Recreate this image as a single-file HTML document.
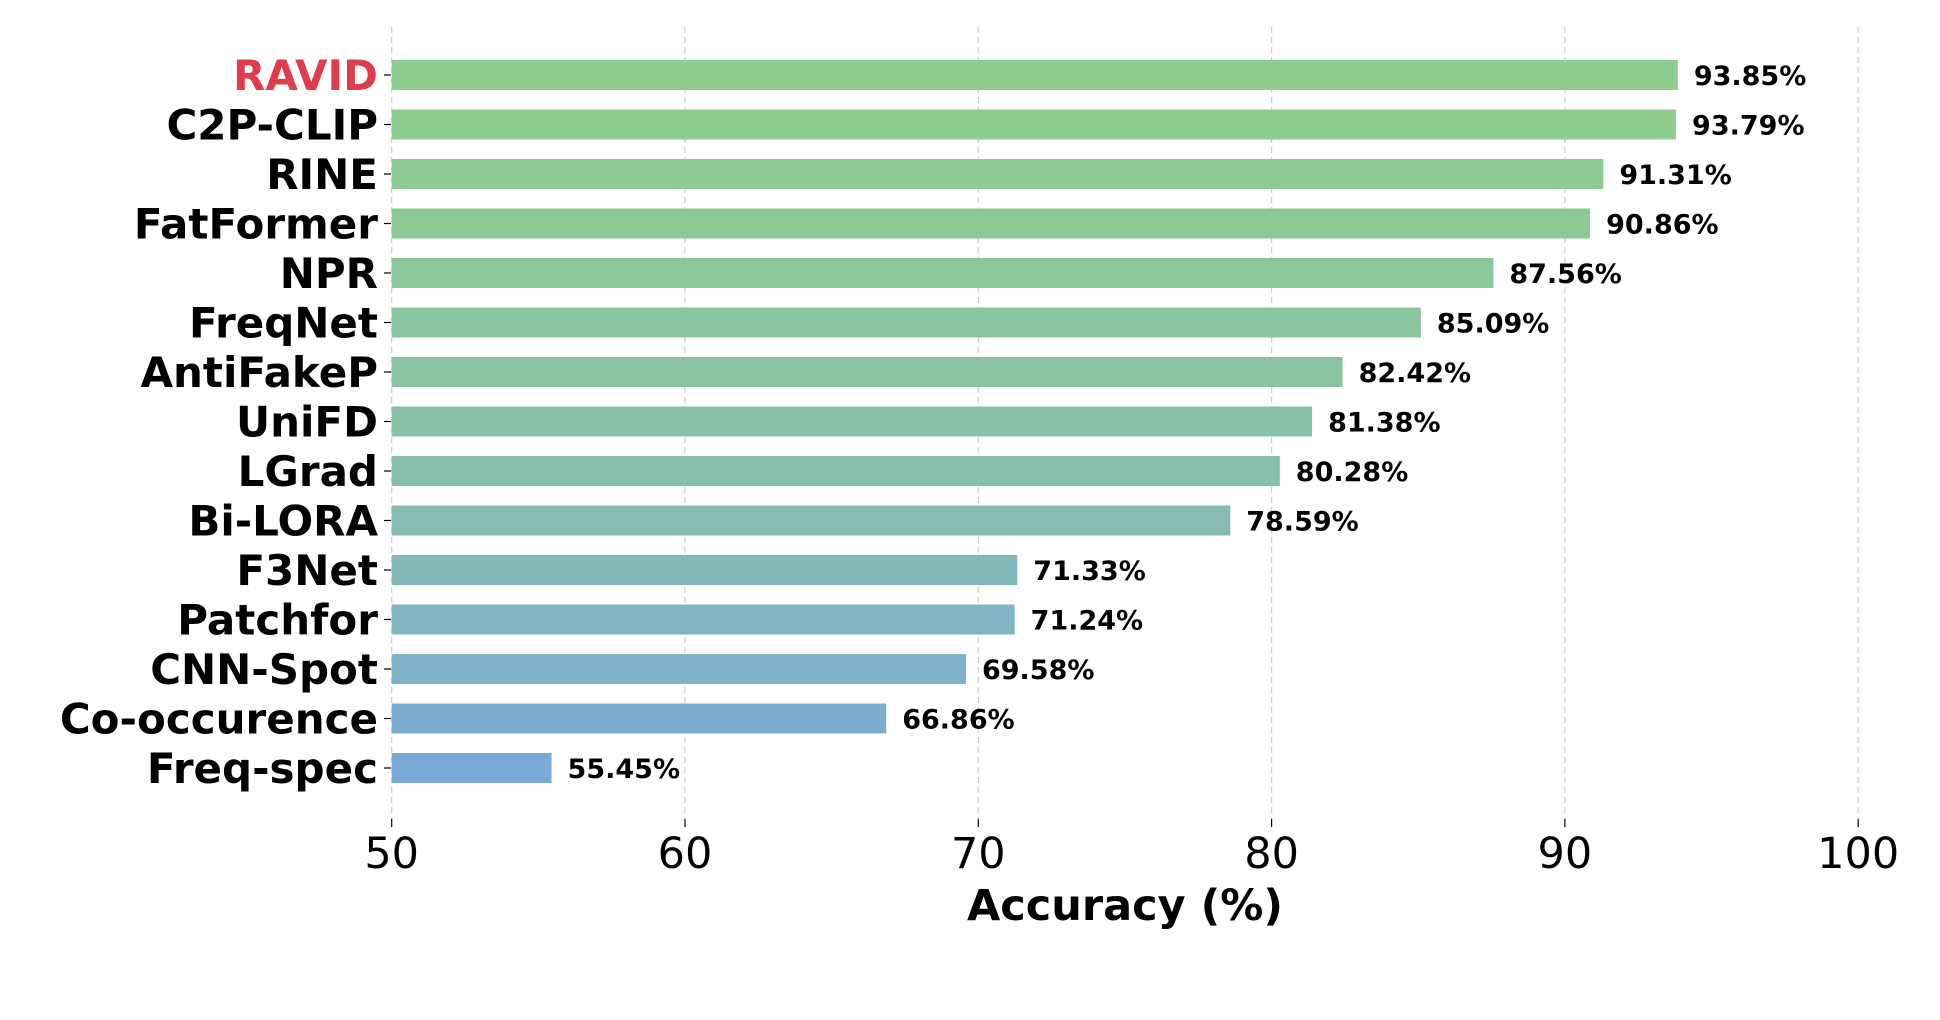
<!DOCTYPE html>
<html><head><meta charset="utf-8"><style>
html,body{margin:0;padding:0;background:#fff;}
svg{display:block;font-family:"DejaVu Sans","Liberation Sans",sans-serif;}
</style></head><body>
<svg id="chart" width="1940" height="1020" viewBox="0 0 1940 1020">
<g id="grid"></g>
<g id="bars"></g>
<g id="ylabels"></g>
<g id="xaxis"></g>
<text x="1125" y="920" text-anchor="middle" font-size="43" font-weight="bold" fill="#000">Accuracy (%)</text>
</svg>
<script>
const categories = ["RAVID","C2P-CLIP","RINE","FatFormer","NPR","FreqNet","AntiFakeP","UniFD","LGrad","Bi-LORA","F3Net","Patchfor","CNN-Spot","Co-occurence","Freq-spec"];
const values = [93.85,93.79,91.31,90.86,87.56,85.09,82.42,81.38,80.28,78.59,71.33,71.24,69.58,66.86,55.45];
const valueLabels = ["93.85%","93.79%","91.31%","90.86%","87.56%","85.09%","82.42%","81.38%","80.28%","78.59%","71.33%","71.24%","69.58%","66.86%","55.45%"];
const xTicks = [50,60,70,80,90,100];
const xTickLabels = ["50","60","70","80","90","100"];

const NS="http://www.w3.org/2000/svg";
const X0=391.7, PXU=29.33, XMIN=50;
function xs(v){return X0+(v-XMIN)*PXU;}
const Y0=75, STEP=49.5, BH=30;
function ys(i){return Y0+i*STEP;}
function mk(t,a,p){const e=document.createElementNS(NS,t);for(const k in a)e.setAttribute(k,a[k]);p.appendChild(e);return e;}
function col(i,n){const t=n>1?i/(n-1):0;const c0=[143,204,143],c1=[122,170,216];
  // ease so most bars stay green-ish
  const s=Math.pow(t,1.6);const c=c0.map((v,k)=>Math.round(v+(c1[k]-v)*s));return `rgb(${c[0]},${c[1]},${c[2]})`;}

const grid=document.getElementById('grid'),bars=document.getElementById('bars'),yl=document.getElementById('ylabels'),xa=document.getElementById('xaxis');
xTicks.forEach((t,i)=>{
  const g=mk('line',{x1:xs(t),x2:xs(t),y1:27,y2:820,stroke:'#cccccc','stroke-width':1.2,'stroke-dasharray':'6,4'},grid);
  
  
  const tk=mk('line',{x1:xs(t),x2:xs(t),y1:819,y2:827,stroke:'#000','stroke-width':1.2},xa);
  
  
  const tl=mk('text',{x:xs(t),y:868,'text-anchor':'middle','font-size':43,fill:'#000'},xa);
  tl.textContent=xTickLabels[i];
  
  
});
categories.forEach((c,i)=>{
  const y=ys(i);
  const r=mk('rect',{x:xs(XMIN),y:y-BH/2,width:xs(values[i])-xs(XMIN),height:BH,fill:col(i,categories.length)},bars);
  
  
  const vl=mk('text',{x:xs(values[i])+16,y:y+10,'font-size':27,'font-weight':'bold',fill:'#000'},bars);
  vl.textContent=valueLabels[i];
  
  
  const tk=mk('line',{x1:384,x2:391,y1:y,y2:y,stroke:'#000','stroke-width':1.2},yl);
  
  
  const lb=mk('text',{x:378,y:y+15,'text-anchor':'end','font-size':42,'font-weight':'bold',fill:i===0?'#e03c4a':'#000'},yl);
  lb.textContent=c;
  
  
});
</script>
</body></html>
